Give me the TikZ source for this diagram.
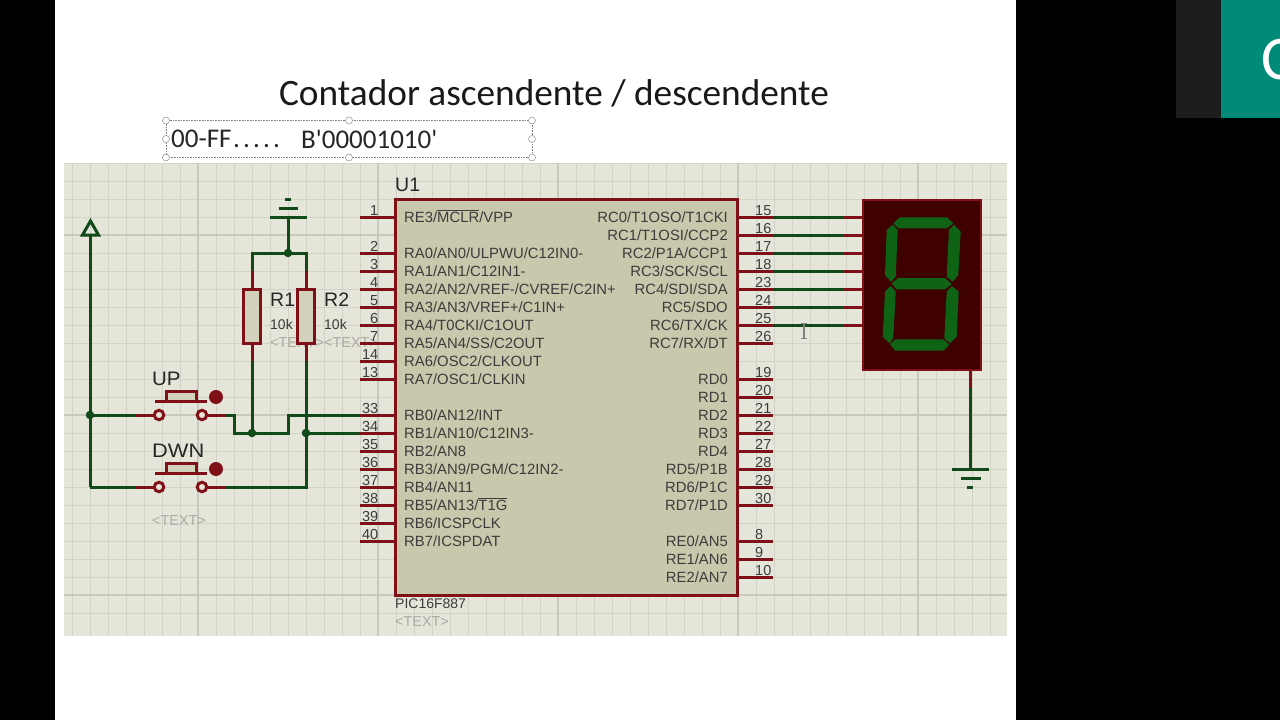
\documentclass[tikz,border=0pt]{standalone}
\usepackage{fontspec}
\setmainfont{Liberation Sans}
\newfontfamily\titlefont{Carlito}
\definecolor{gridbg}{HTML}{E5E5DA}
\definecolor{gridmin}{HTML}{D2D2C7}
\definecolor{gridmaj}{HTML}{C8C8BC}
\definecolor{pinred}{HTML}{801018}
\definecolor{wiregreen}{HTML}{104A18}
\definecolor{icfill}{HTML}{C8C8AC}
\definecolor{bodyfill}{HTML}{D2D2BC}
\definecolor{segdark}{HTML}{3F0000}
\definecolor{seggreen}{HTML}{0F6315}
\definecolor{inktext}{HTML}{3C3C3C}
\definecolor{ghost}{HTML}{ABABA3}
\definecolor{teal}{HTML}{008A78}
\tikzset{
  pinline/.style={draw=pinred,line width=3pt},
  wire/.style={draw=wiregreen,line width=3pt},
  junction/.style={circle,fill=wiregreen,inner sep=0pt,minimum size=8.5pt},
  pinname/.style={inner sep=0pt,text=inktext,font=\fontsize{14.85}{16}\selectfont},
  pinnum/.style={inner sep=0pt,text=inktext,font=\fontsize{14.5}{16}\selectfont},
  reftext/.style={inner sep=0pt,text=black!85,font=\fontsize{19.5}{22}\selectfont},
  valtext/.style={inner sep=0pt,text=inktext,font=\fontsize{14}{16}\selectfont},
  ghosttext/.style={inner sep=0pt,text=ghost,font=\fontsize{14.4}{16}\selectfont},
  resbody/.style={draw=pinred,fill=bodyfill,line width=3pt},
  termcircle/.style={circle,draw=pinred,fill=gridbg,line width=3pt,inner sep=0pt,minimum size=9.5pt},
  leddot/.style={circle,fill=pinred,inner sep=0pt,minimum size=14pt},
  handle/.style={circle,draw=black!45,fill=white,line width=.5pt,inner sep=0pt,minimum size=7pt},
  seg/.style={fill=seggreen},
}
\begin{document}
\begin{tikzpicture}[x=1pt,y=-1pt]
\useasboundingbox (0,0) rectangle (1280,720);
% slide
\fill[black] (0,0) rectangle (1280,720);
\fill[white] (55,0) rectangle (1016,720);
\fill[black!89] (1176,0) rectangle (1221,118);
\fill[teal] (1221,0) rectangle (1280,118);
\begin{scope}
\clip (1221,0) rectangle (1280,118);
\node[anchor=west,inner sep=0pt,text=white,font=\titlefont\fontsize{62}{70}\selectfont] (tabc) at (1261,60) {C};
\end{scope}
% title and text box
\node[inner sep=0pt,font=\titlefont\fontsize{37.3}{42}\selectfont,text=black!90] (title) at (554,93) {Contador ascendente / descendente};
\draw[black!50,line width=.6pt,densely dotted] (166,120.5) rectangle (532,157.5);
\foreach \hx/\hy/\hn in {166/120.5/a,349/120.5/b,532/120.5/c,166/139/d,532/139/e,166/157.5/f,349/157.5/g,532/157.5/h}
  \node[handle] (hd\hn) at (\hx,\hy) {};
\node[anchor=west,inner sep=0pt,font=\titlefont\fontsize{27}{30}\selectfont,text=black!85] (noteb) at (301,139) {B'00001010'};
\node[anchor=west,inner sep=0pt,font=\titlefont\fontsize{27}{30}\selectfont,text=black!85] (notea) at (171,139) {00-FF\kern1.5pt.\kern3.2pt.\kern3.2pt.\kern3.2pt.\kern3.2pt.};
% schematic sheet
\fill[gridbg] (64,163) rectangle (1007,636);
\foreach \gx in {72,90,...,1000} \draw[gridmin,line width=1pt] (\gx,163) -- (\gx,636);
\foreach \gy in {163,181,...,630} \draw[gridmin,line width=1pt] (64,\gy) -- (1007,\gy);
\foreach \gx in {198,378,558,738,918} \draw[gridmaj,line width=1.2pt] (\gx,163) -- (\gx,636);
\foreach \gy in {235,415,595} \draw[gridmaj,line width=1.2pt] (64,\gy) -- (1007,\gy);
% texts lying under the resistors
\node[reftext,anchor=base west] (r1ref) at (270,306) {R1};
\node[reftext,anchor=base west] (r2ref) at (324,306) {R2};
\node[valtext,anchor=base west] (r1val) at (270,329) {10k};
\node[valtext,anchor=base west] (r2val) at (324,329) {10k};
\node[ghosttext,anchor=base west] (r1txt) at (270,347) {<TEXT>};
\node[ghosttext,anchor=base west] (r2txt) at (324,347) {<TEXT>};
% IC
\node[draw=pinred,fill=icfill,line width=3pt,minimum width=342pt,minimum height=396pt,inner sep=0pt,outer sep=0pt,anchor=north west] (ic) at (395,199) {};
\node[reftext,anchor=base west] (u1) at (395,191) {U1};
\node[valtext,anchor=base west] (icname) at (395,608) {PIC16F887};
\node[ghosttext,anchor=base west] (ictxt) at (395,626) {<TEXT>};
% left pins
\foreach \n/\py/\lab in {
 1/217/{RE3/$\overline{\hbox{MCLR}}$/VPP},
 2/253/{RA0/AN0/ULPWU/C12IN0-},
 3/271/{RA1/AN1/C12IN1-},
 4/289/{RA2/AN2/VREF-/CVREF/C2IN+},
 5/307/{RA3/AN3/VREF+/C1IN+},
 6/325/{RA4/T0CKI/C1OUT},
 7/343/{RA5/AN4/SS/C2OUT},
 14/361/{RA6/OSC2/CLKOUT},
 13/379/{RA7/OSC1/CLKIN},
 33/415/{RB0/AN12/INT},
 34/433/{RB1/AN10/C12IN3-},
 35/451/{RB2/AN8},
 36/469/{RB3/AN9/PGM/C12IN2-},
 37/487/{RB4/AN11},
 38/505/{RB5/AN13/$\overline{\hbox{T1G}}$},
 39/523/{RB6/ICSPCLK},
 40/541/{RB7/ICSPDAT}}{
  \coordinate (pl\n) at (395,\py);
  \coordinate (pe\n) at (360,\py);
  \draw[pinline] (pl\n) -- (pe\n);
  \node[pinnum,anchor=base east] (nl\n) at (378.5,\py-2) {\n};
  \node[pinname,anchor=base west] (ll\n) at (404,\py+5) {\lab};
}
% right pins
\foreach \n/\py/\lab in {
 15/217/{RC0/T1OSO/T1CKI},
 16/235/{RC1/T1OSI/CCP2},
 17/253/{RC2/P1A/CCP1},
 18/271/{RC3/SCK/SCL},
 23/289/{RC4/SDI/SDA},
 24/307/{RC5/SDO},
 25/325/{RC6/TX/CK},
 26/343/{RC7/RX/DT},
 19/379/{RD0},
 20/397/{RD1},
 21/415/{RD2},
 22/433/{RD3},
 27/451/{RD4},
 28/469/{RD5/P1B},
 29/487/{RD6/P1C},
 30/505/{RD7/P1D},
 8/541/{RE0/AN5},
 9/559/{RE1/AN6},
 10/577/{RE2/AN7}}{
  \coordinate (pr\n) at (737,\py);
  \coordinate (qe\n) at (773,\py);
  \draw[pinline] (pr\n) -- (qe\n);
  \node[pinnum,anchor=base west] (nr\n) at (755,\py-2) {\n};
  \node[pinname,anchor=base east] (lr\n) at (728,\py+5) {\lab};
}
% seven segment display
\node[draw=pinred,fill=segdark,line width=2pt,minimum width=118pt,minimum height=170pt,inner sep=0pt,outer sep=0pt,anchor=north west] (disp) at (862.5,199.5) {};
\foreach \n/\py in {15/217,16/235,17/253,18/271,23/289,24/307,25/325}{
  \coordinate (ds\n) at (862,\py);
  \coordinate (dg\n) at (844,\py);
  \draw[pinline] (dg\n) -- (ds\n);
  \draw[wire] (qe\n) -- (dg\n);
}
\fill[seg] (893.3,223.3)--(900,217.3)--(946.7,217.3)--(953.3,223.3)--(946.7,228.3)--(898.3,228.3)--cycle;
\fill[seg] (891.7,283.3)--(898.3,278)--(945,278)--(951.7,284)--(945,289.3)--(896.7,289.3)--cycle;
\fill[seg] (890,344)--(895.7,339.3)--(943.3,339.3)--(949.3,344.7)--(943.3,350.7)--(895,350.7)--cycle;
\fill[seg] (892.7,224.7)--(897.7,230)--(895.7,276.7)--(891,281.7)--(885,275)--(886.7,230)--cycle;
\fill[seg] (954,224.7)--(960.7,231.7)--(958.3,275)--(952.7,281.7)--(946.7,276.7)--(949,230)--cycle;
\fill[seg] (890.7,286)--(895.7,291.7)--(893.3,338.3)--(889.3,343.3)--(882.7,336.7)--(885,291.7)--cycle;
\fill[seg] (951.7,286)--(958.7,291.7)--(956.7,336.7)--(950,343.3)--(944.3,338.3)--(946.7,291.7)--cycle;
% display ground
\coordinate (dispb) at (970,370);
\coordinate (dispg) at (970,388);
\coordinate (gnd2) at (970,469);
\draw[pinline] (dispb) -- (dispg);
\draw[wire] (dispg) -- (gnd2);
\draw[wire] (952,469) -- (989,469);
\draw[wire] (961,478) -- (981,478);
\draw[wire] (967,487) -- (973,487);
% I-beam cursor
\draw[black!50,line width=1.2pt] (804,324) -- (804,338) (801,323.5) -- (807,323.5) (801,338.5) -- (807,338.5);
% top supply
\coordinate (gnd1) at (288,217);
\coordinate (jtop) at (288,253);
\draw[wire] (270,217) -- (307,217);
\draw[wire] (279,208) -- (298,208);
\draw[wire] (285,199) -- (291,199);
\draw[wire] (gnd1) -- (jtop);
% resistors
\coordinate (r1t) at (252,253);
\coordinate (r1a) at (252,271);
\coordinate (r1b) at (252,361);
\coordinate (r2t) at (306,253);
\coordinate (r2a) at (306,271);
\coordinate (r2b) at (306,361);
\coordinate (jr1) at (252,433);
\coordinate (jr2) at (306,433);
\coordinate (rr) at (306,487);
\draw[wire] (r1a) -- (r1t) -- (r2t) -- (r2a);
\draw[pinline] (r1a) -- (r1b);
\draw[pinline] (r2a) -- (r2b);
\draw[wire] (r1b) -- (jr1);
\draw[wire] (r2b) -- (jr2);
\node[resbody,minimum width=17pt,minimum height=54pt,inner sep=0pt,outer sep=0pt] (r1) at (252,316) {};
\node[resbody,minimum width=17pt,minimum height=54pt,inner sep=0pt,outer sep=0pt] (r2) at (306,316) {};
% supply arrow
\coordinate (vtop) at (90,235);
\coordinate (jv) at (90,415);
\coordinate (vbot) at (90,487);
\draw[wire] (vtop) -- (vbot);
\draw[wire,line join=miter] (90.5,221) -- (98.5,235) -- (82.5,235) -- cycle;
% push buttons
\foreach \bn/\by/\bl/\bs in {up/415/UP/1.05,dn/487/DWN/1.12}{
  \coordinate (\bn a) at (153,\by);
  \coordinate (\bn b) at (135,\by);
  \coordinate (\bn c) at (208,\by);
  \coordinate (\bn d) at (226,\by);
  \draw[pinline] (\bn b) -- (\bn a);
  \draw[pinline] (\bn c) -- (\bn d);
  \draw[pinline] (155,\by-14) -- (207,\by-14);
  \draw[resbody] (166,\by-24) rectangle (196,\by-14);
  \node[termcircle] (\bn t) at (159,\by) {};
  \node[termcircle] (\bn u) at (202,\by) {};
  \node[leddot] (\bn l) at (216,\by-18) {};
  \node[reftext,anchor=base west] (\bn n) at (152,\by-30) {\scalebox{\bs}[1]{\bl}};
}
\node[ghosttext,anchor=base west] (dntxt) at (152,525) {<TEXT>};
% wiring
\coordinate (w1) at (234,415);
\coordinate (w2) at (234,433);
\coordinate (w3) at (288,433);
\coordinate (w4) at (288,415);
\draw[wire] (jv) -- (upb);
\draw[wire] (vbot) -- (dnb);
\draw[wire] (upd) -- (w1) -- (w2) -- (w3) -- (w4) -- (pe33);
\draw[wire] (jr2) -- (pe34);
\draw[wire] (dnd) -- (rr) -- (jr2);
% junctions
\node[junction] (j1) at (jtop) {};
\node[junction] (j2) at (jv) {};
\node[junction] (j3) at (jr1) {};
\node[junction] (j4) at (jr2) {};
\end{tikzpicture}
\end{document}
